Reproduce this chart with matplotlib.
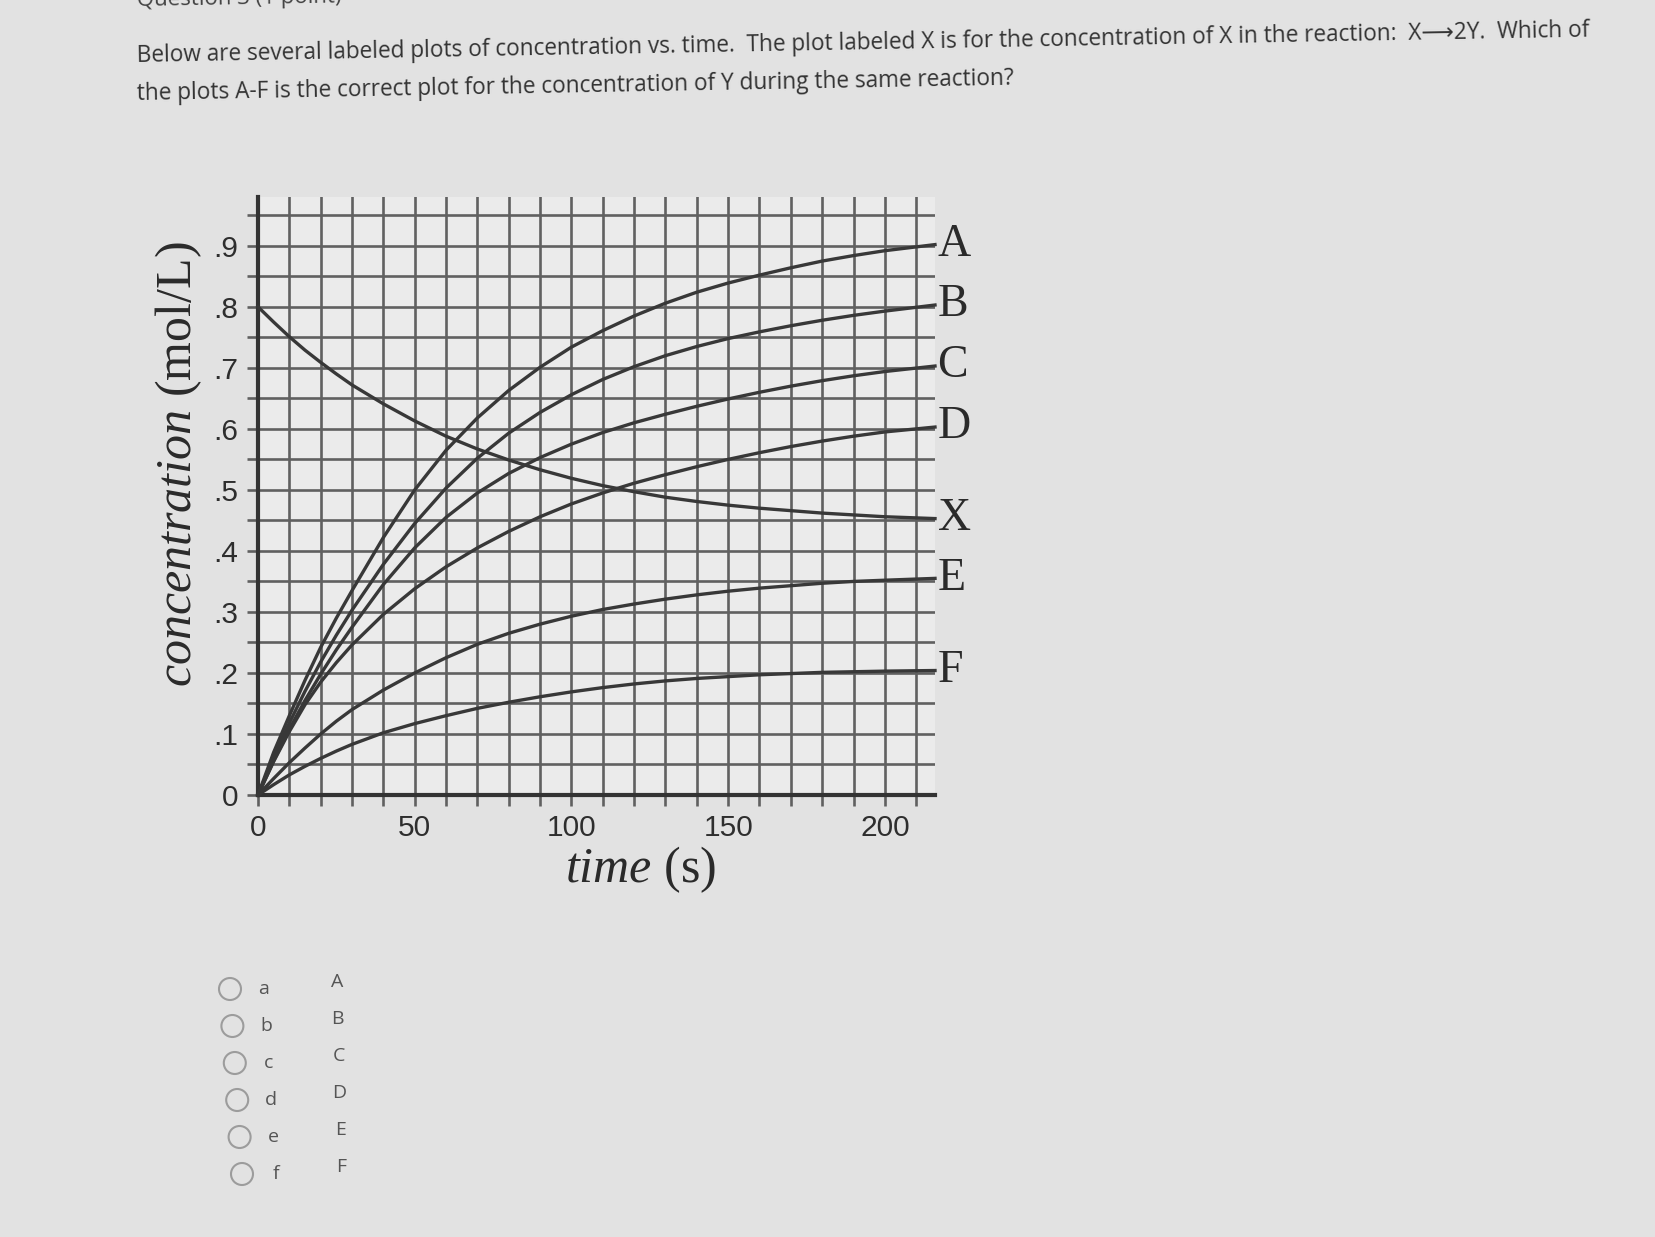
import matplotlib
matplotlib.use("Agg")
import matplotlib.pyplot as plt
from matplotlib.patches import Ellipse

plt.rcParams['mathtext.fontset'] = 'custom'
plt.rcParams['mathtext.it'] = 'Liberation Serif:italic'
plt.rcParams['mathtext.rm'] = 'Liberation Serif'

# values (time in s, concentration in mol/L)
t = [0, 5, 10, 15, 20, 25, 30, 40, 50, 60, 70, 80, 90, 100, 110, 120,
     130, 140, 150, 160, 170, 180, 190, 200, 216]
conc_A = [0, .07, .13, .188, .242, .29, .335, .422, .50, .565, .618, .663, .701,
          .734, .761, .785, .806, .824, .839, .852, .864, .875, .884, .892, .902]
conc_B = [0, .062, .118, .17, .218, .262, .303, .378, .445, .503, .552, .593, .627,
          .656, .681, .702, .72, .735, .748, .759, .769, .778, .786, .793, .803]
conc_C = [0, .056, .108, .155, .198, .238, .275, .345, .405, .455, .495, .527, .553,
          .575, .594, .61, .624, .637, .649, .66, .67, .679, .687, .694, .703]
conc_D = [0, .055, .104, .148, .185, .217, .246, .296, .338, .374, .405, .432, .456,
          .477, .495, .511, .525, .538, .55, .561, .571, .58, .588, .595, .603]
conc_E = [0, .027, .053, .077, .10, .121, .14, .172, .20, .225, .247, .265, .28,
          .293, .304, .313, .321, .328, .334, .339, .343, .347, .35, .352, .355]
conc_F = [0, .017, .033, .047, .06, .072, .083, .102, .117, .13, .142, .152, .161,
          .169, .176, .182, .187, .191, .194, .197, .199, .201, .202, .203, .204]
conc_X = [.80, .775, .751, .729, .709, .69, .672, .641, .613, .588, .567, .549, .533,
          .519, .507, .497, .488, .481, .475, .47, .466, .462, .459, .456, .453]

curves = {"A": conc_A, "B": conc_B, "C": conc_C, "D": conc_D,
          "X": conc_X, "E": conc_E, "F": conc_F}

x_ticks = list(range(0, 211, 10))
x_labels = ["0", "50", "100", "150", "200"]
y_ticks = [i * 0.05 for i in range(20)]
y_labels = ["0", ".1", ".2", ".3", ".4", ".5", ".6", ".7", ".8", ".9"]

question = ("Below are several labeled plots of concentration vs. time.  The plot labeled X "
            "is for the concentration of X in the reaction:  X\u27f62Y.  Which of")
question2 = "the plots A-F is the correct plot for the concentration of Y during the same reaction?"
option_letters = ["a", "b", "c", "d", "e", "f"]
option_answers = ["A", "B", "C", "D", "E", "F"]

W, H = 1655, 1237
fig = plt.figure(figsize=(W / 100, H / 100), dpi=100, facecolor="#e2e2e2")

# page text
fig.text(137 / W, 1 - 6 / H, "Question 3 (1 point)", family=["Open Sans", "DejaVu Sans"],
         fontsize=16, color="#444444", va="baseline", rotation=1.0, rotation_mode="anchor")
fig.text(137 / W, 1 - 62 / H, question, family=["Open Sans", "DejaVu Sans"], fontsize=16.3,
         color="#333333", va="baseline", rotation=1.0, rotation_mode="anchor")
fig.text(137 / W, 1 - 100 / H, question2, family=["Open Sans", "DejaVu Sans"], fontsize=16.3,
         color="#333333", va="baseline", rotation=1.0, rotation_mode="anchor")

# chart
ax = fig.add_axes([258 / W, 442 / H, 677 / W, 598 / H])
ax.set_facecolor("#ebebeb")
grid_col = "#606060"
for name, vals in curves.items():
    ax.plot(t, vals, color="#383838", lw=2.4, clip_on=False, zorder=3)
    ax.text(t[-1] + 0.8, vals[-1], name, family="Liberation Serif", fontsize=33,
            color="#2a2a2a", ha="left", va="center")

ax.set_xlim(0, 216)
ax.set_ylim(0, 0.98)
ax.set_xticks(x_ticks)
ax.set_xticklabels([x_labels[i // 5] if i % 5 == 0 else "" for i in range(len(x_ticks))])
ax.set_yticks(y_ticks)
ax.set_yticklabels([y_labels[i // 2] if i % 2 == 0 else "" for i in range(len(y_ticks))])
ax.grid(True, color=grid_col, lw=1.9)
ax.set_axisbelow(True)
ax.tick_params(direction="out", length=8, width=1.9, color=grid_col, labelsize=21.5,
               labelcolor="#2e2e2e", pad=6)
for lab in ax.get_xticklabels() + ax.get_yticklabels():
    lab.set_family("Liberation Sans")
for s in ["top", "right"]:
    ax.spines[s].set_visible(False)
for s in ["left", "bottom"]:
    ax.spines[s].set_linewidth(3)
    ax.spines[s].set_color("#333333")

fig.text(179 / W, 1 - 464 / H, r"$\mathit{concentration}$ (mol/L)", family="Liberation Serif",
         fontsize=36, color="#2a2a2a", rotation=90, ha="center", va="center")
fig.text(641 / W, 1 - 870 / H, r"$\mathit{time}$ (s)", family="Liberation Serif",
         fontsize=36, color="#2a2a2a", ha="center", va="center")

# answer options
for i, (lo, up) in enumerate(zip(option_letters, option_answers)):
    cy = 989 + i * 37
    cx = 230 + i * 2.4
    fig.add_artist(Ellipse((cx / W, 1 - cy / H), 22 / W, 22 / H, fill=False,
                           edgecolor="#9c9c9c", lw=1.5))
    fig.text((cx + 34) / W, 1 - cy / H, lo, family="Open Sans", fontsize=14,
             color="#555555", ha="center", va="center")
    fig.text((337 + i * 0.8) / W, 1 - (cy - 7) / H, up, family="Open Sans", fontsize=14,
             color="#555555", ha="center", va="center")

fig.savefig("out.png", dpi=100, facecolor=fig.get_facecolor())
